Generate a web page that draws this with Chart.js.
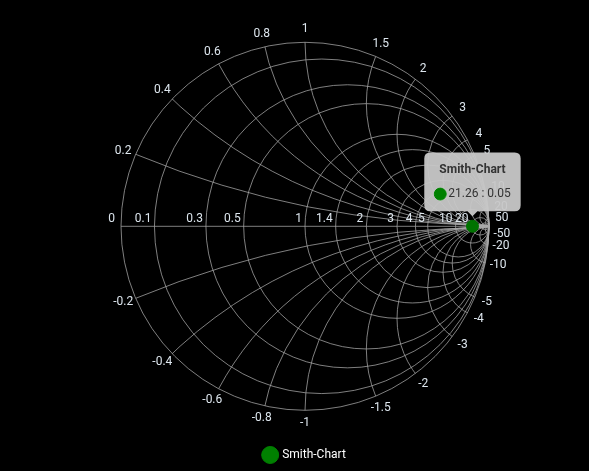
<html>
<head>
<meta charset="utf-8">
<title>smith</title>
<script src="https://cdn.jsdelivr.net/npm/chart.js@4"></script>
<style>
  html, body { margin:0; padding:0; background:#000; }
  #wrap { width:589px; height:471px; }
</style>
</head>
<body>
<div id="wrap"><canvas id="canvas"></canvas></div>
<script>
// measured point (normalised impedance)
var resistance = [21.26];
var reactance = [0.05];

// grid values
var rCircles = [0, 0.1, 0.3, 0.5, 1, 1.4, 2, 3, 4, 5, 10, 20, 50];
var rLabels = ['0', '0.1', '0.3', '0.5', '1', '1.4', '2', '3', '4', '5', '10', '20'];
var xArcs = [0.2, 0.4, 0.6, 0.8, 1, 1.5, 2, 3, 4, 5, 10, 20, 50];
var xLabels = ['0.2', '0.4', '0.6', '0.8', '1', '1.5', '2', '3', '4', '5', '10', '20', '50'];

function gamma(r, x) {
	var d = (r + 1) * (r + 1) + x * x;
	return { x: (r * r + x * x - 1) / d, y: (2 * x) / d };
}

var points = resistance.map(function (r, i) {
	var g = gamma(r, reactance[i]);
	return { x: g.x, y: g.y, r: r, im: reactance[i] };
});

var smithGrid = {
	id: 'smithGrid',
	beforeDatasetsDraw: function (chart) {
		var ctx = chart.ctx, sx = chart.scales.x, sy = chart.scales.y;
		var px = function (v) { return sx.getPixelForValue(v); };
		var py = function (v) { return sy.getPixelForValue(v); };
		var R = px(1) - px(0);
		var cx = px(0), cy = py(0);
		ctx.save();
		ctx.strokeStyle = 'rgba(170,170,170,0.75)';
		ctx.lineWidth = 1;
		// resistance circles
		rCircles.forEach(function (r) {
			var c = r / (r + 1), rad = 1 / (r + 1);
			ctx.beginPath();
			ctx.arc(px(c), cy, rad * R, 0, Math.PI * 2);
			ctx.stroke();
		});
		// real axis
		ctx.beginPath(); ctx.moveTo(px(-1), cy); ctx.lineTo(px(1), cy); ctx.stroke();
		// reactance arcs, clipped to unit circle
		ctx.save();
		ctx.beginPath(); ctx.arc(cx, cy, R, 0, Math.PI * 2); ctx.clip();
		xArcs.forEach(function (x) {
			[1, -1].forEach(function (s) {
				ctx.beginPath();
				ctx.arc(px(1), py(s / x), R / x, 0, Math.PI * 2);
				ctx.stroke();
			});
		});
		ctx.restore();
		// labels
		ctx.fillStyle = '#dde6ee';
		ctx.font = '12px Roboto, sans-serif';
		ctx.textAlign = 'right';
		ctx.textBaseline = 'bottom';
		rLabels.forEach(function (t) {
			var r = parseFloat(t);
			var g = (r - 1) / (r + 1);
			ctx.fillText(t, px(g) - (r === 0 ? 6 : 3), cy - 1);
		});
		ctx.textAlign = 'center';
		ctx.textBaseline = 'middle';
		xLabels.forEach(function (t) {
			var x = parseFloat(t);
			[1, -1].forEach(function (s) {
				var g = gamma(0, s * x);
				var a = Math.atan2(g.y, g.x);
				var lx = cx + (R + 13) * Math.cos(a);
				var ly = cy - (R + 13) * Math.sin(a);
				ctx.fillText(s < 0 ? '-' + t : t, lx, ly);
			});
		});
		ctx.restore();
	}
};

var chart = new Chart(document.getElementById('canvas'), {
	type: 'scatter',
	plugins: [smithGrid],
	data: {
		datasets: [{
			label: 'Smith-Chart',
			data: points,
			backgroundColor: 'green',
			borderColor: 'green',
			pointRadius: 6,
			pointHoverRadius: 6
		}]
	},
	options: {
		responsive: true,
		maintainAspectRatio: false,
		animation: false,
		layout: { padding: { left: 121, right: 100, top: 42, bottom: 0 } },
		scales: {
			x: { display: false, min: -1, max: 1 },
			y: { display: false, min: -1, max: 1 }
		},
		plugins: {
			legend: {
				position: 'bottom',
				title: { display: true, text: ' ', padding: 6, font: { size: 12 } },
				labels: { color: '#fff', usePointStyle: true, pointStyle: 'circle', boxWidth: 12, boxHeight: 12, padding: 12, font: { family: 'Roboto', size: 12 } }
			},
			tooltip: {
				backgroundColor: 'rgba(200,200,200,0.95)',
				titleColor: '#333',
				bodyColor: '#333',
				titleFont: { family: 'Roboto', size: 12, weight: 'bold' },
				bodyFont: { family: 'Roboto', size: 12 },
				titleAlign: 'center',
				titleMarginBottom: 10,
				usePointStyle: true,
				yAlign: 'bottom',
				padding: 10,
				caretPadding: 10,
				callbacks: {
					title: function () { return 'Smith-Chart'; },
					label: function (c) { return c.raw.r.toFixed(2) + ' : ' + c.raw.im.toFixed(2); }
				}
			}
		}
	}
});

var p = chart.getDatasetMeta(0).data[0];
chart.tooltip.setActiveElements([{ datasetIndex: 0, index: 0 }], { x: p.x, y: p.y });
chart.setActiveElements([{ datasetIndex: 0, index: 0 }]);
chart.update();
</script>
</body>
</html>
